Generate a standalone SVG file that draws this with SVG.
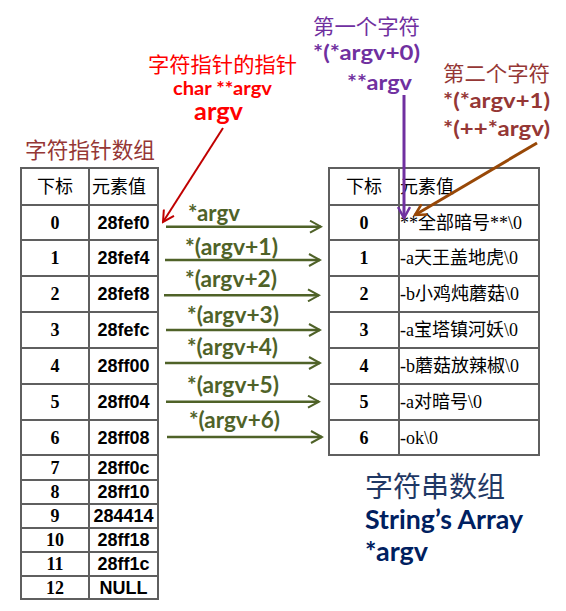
<svg xmlns="http://www.w3.org/2000/svg" width="566" height="611" viewBox="0 0 566 611">
<style>
.bg{fill:#ffffff}
.grid{stroke:#5f5f5f;stroke-width:2;fill:none}
.hdr{font-family:"Liberation Serif","Noto Sans CJK SC",serif;font-size:18px;fill:#000}
.idx{font-family:"Liberation Serif","Noto Sans CJK SC",serif;font-size:18px;font-weight:bold;fill:#000;text-anchor:middle}
.val{font-family:"Liberation Sans",Arial,sans-serif;font-size:18px;font-weight:bold;fill:#000;text-anchor:middle}
.str{font-family:"Liberation Serif","Noto Sans CJK SC",serif;font-size:18px;fill:#000}
.lbl{font-family:Lato,"Open Sans",sans-serif;font-size:23px;font-weight:bold;fill:#4f6228}
.cjk{font-family:"Noto Sans CJK SC",sans-serif}
.bold{font-family:Lato,"Open Sans",sans-serif;font-weight:bold}
.green{stroke:#4f6228;stroke-width:2.5;fill:none}
</style>
<defs>
<marker id="hg" markerUnits="userSpaceOnUse" viewBox="0 0 14 14" markerWidth="14" markerHeight="14" refX="12" refY="7" orient="auto"><path d="M1,1 L12,7 L1,13" fill="none" stroke="#4f6228" stroke-width="2"/></marker>
<marker id="hr" markerUnits="userSpaceOnUse" viewBox="0 0 14 14" markerWidth="14" markerHeight="14" refX="12" refY="7" orient="auto"><path d="M1,1 L12,7 L1,13" fill="none" stroke="#c00000" stroke-width="2"/></marker>
<marker id="hp" markerUnits="userSpaceOnUse" viewBox="0 0 14 14" markerWidth="14" markerHeight="14" refX="12" refY="7" orient="auto"><path d="M1,1 L12,7 L1,13" fill="none" stroke="#7030a0" stroke-width="2.5"/></marker>
<marker id="hb" markerUnits="userSpaceOnUse" viewBox="0 0 14 14" markerWidth="14" markerHeight="14" refX="12" refY="7" orient="auto"><path d="M1,1 L12,7 L1,13" fill="none" stroke="#984807" stroke-width="2.5"/></marker>
</defs>
<rect class="bg" x="0" y="0" width="566" height="611"/>

<g id="label-pointer-to-pointer">
<text class="cjk" x="148" y="72" font-size="21" fill="#ff0000" textLength="149" lengthAdjust="spacingAndGlyphs">字符指针的指针</text>
<text class="bold" x="173" y="95" font-size="18" fill="#ff0000" textLength="99" lengthAdjust="spacingAndGlyphs">char **argv</text>
<text class="bold" x="194" y="120" font-size="25" fill="#ff0000" textLength="49" lengthAdjust="spacingAndGlyphs">argv</text>
</g>

<g id="label-first-char">
<text class="cjk" x="313" y="34" font-size="21" fill="#7030a0" textLength="107" lengthAdjust="spacingAndGlyphs">第一个字符</text>
<text class="bold" x="313" y="60" font-size="21" fill="#7030a0" textLength="107" lengthAdjust="spacingAndGlyphs">*(*argv+0)</text>
<text class="bold" x="347" y="90" font-size="21" fill="#7030a0" textLength="65" lengthAdjust="spacingAndGlyphs">**argv</text>
</g>

<g id="label-second-char">
<text class="cjk" x="443" y="81" font-size="21" fill="#953735" textLength="107" lengthAdjust="spacingAndGlyphs">第二个字符</text>
<text class="bold" x="443" y="108" font-size="21" fill="#953735" textLength="107" lengthAdjust="spacingAndGlyphs">*(*argv+1)</text>
<text class="bold" x="443" y="136" font-size="21" fill="#953735" textLength="107" lengthAdjust="spacingAndGlyphs">*(++*argv)</text>
</g>

<g id="label-pointer-array">
<text class="cjk" x="25" y="158" font-size="22" fill="#953735" textLength="130" lengthAdjust="spacingAndGlyphs">字符指针数组</text>
</g>

<g id="table-pointer-array">
<rect class="grid" x="21" y="168" width="137" height="431"/>
<path class="grid" d="M89,168V599 M21,205H158 M21,240H158 M21,276H158 M21,312H158 M21,348H158 M21,384H158 M21,420H158 M21,455H158 M21,480H158 M21,504H158 M21,528H158 M21,552H158 M21,576H158"/>
<text class="hdr" x="55" y="193" text-anchor="middle">下标</text>
<text class="hdr" x="92" y="193">元素值</text>
<text class="idx" x="55" y="228.5">0</text><text class="val" x="123.5" y="228.5">28fef0</text>
<text class="idx" x="55" y="264">1</text><text class="val" x="123.5" y="264">28fef4</text>
<text class="idx" x="55" y="300">2</text><text class="val" x="123.5" y="300">28fef8</text>
<text class="idx" x="55" y="336">3</text><text class="val" x="123.5" y="336">28fefc</text>
<text class="idx" x="55" y="372">4</text><text class="val" x="123.5" y="372">28ff00</text>
<text class="idx" x="55" y="408">5</text><text class="val" x="123.5" y="408">28ff04</text>
<text class="idx" x="55" y="443.5">6</text><text class="val" x="123.5" y="443.5">28ff08</text>
<text class="idx" x="55" y="473.5">7</text><text class="val" x="123.5" y="473.5">28ff0c</text>
<text class="idx" x="55" y="498">8</text><text class="val" x="123.5" y="498">28ff10</text>
<text class="idx" x="55" y="522">9</text><text class="val" x="123.5" y="522">284414</text>
<text class="idx" x="55" y="546">10</text><text class="val" x="123.5" y="546">28ff18</text>
<text class="idx" x="55" y="570">11</text><text class="val" x="123.5" y="570">28ff1c</text>
<text class="idx" x="55" y="594">12</text><text class="val" x="123.5" y="594">NULL</text>
</g>

<g id="table-string-array">
<rect class="grid" x="329" y="168" width="210" height="287"/>
<path class="grid" d="M399,168V455 M329,205H539 M329,240H539 M329,276H539 M329,312H539 M329,348H539 M329,384H539 M329,420H539"/>
<text class="hdr" x="364" y="193" text-anchor="middle">下标</text>
<text class="hdr" x="400" y="193">元素值</text>
<text class="idx" x="364" y="228.5">0</text><text class="str" x="400" y="228.5">**全部暗号**\0</text>
<text class="idx" x="364" y="264">1</text><text class="str" x="400" y="264">-a天王盖地虎\0</text>
<text class="idx" x="364" y="300">2</text><text class="str" x="400" y="300">-b小鸡炖蘑菇\0</text>
<text class="idx" x="364" y="336">3</text><text class="str" x="400" y="336">-a宝塔镇河妖\0</text>
<text class="idx" x="364" y="372">4</text><text class="str" x="400" y="372">-b蘑菇放辣椒\0</text>
<text class="idx" x="364" y="408">5</text><text class="str" x="400" y="408">-a对暗号\0</text>
<text class="idx" x="364" y="443.5">6</text><text class="str" x="400" y="443.5">-ok\0</text>
</g>

<g id="label-string-array">
<text class="cjk" x="365" y="497" font-size="28" fill="#1f3864" textLength="140" lengthAdjust="spacingAndGlyphs">字符串数组</text>
<text class="bold" x="365" y="529" font-size="26" fill="#002060" textLength="158" lengthAdjust="spacingAndGlyphs">String’s  Array</text>
<text class="bold" x="365" y="561" font-size="26" fill="#002060" textLength="63" lengthAdjust="spacingAndGlyphs">*argv</text>
</g>

<g id="connectors">
<line x1="223" y1="128" x2="163" y2="222" stroke="#c00000" stroke-width="2" marker-end="url(#hr)"/>
<line x1="404" y1="95" x2="404" y2="218" stroke="#7030a0" stroke-width="3" marker-end="url(#hp)"/>
<line x1="537" y1="143" x2="415" y2="215" stroke="#984807" stroke-width="3" marker-end="url(#hb)"/>
<line class="green" x1="166" y1="226.7" x2="321" y2="226.7" marker-end="url(#hg)"/>
<line class="green" x1="165" y1="260" x2="320" y2="260" marker-end="url(#hg)"/>
<line class="green" x1="164" y1="295.3" x2="319" y2="295.3" marker-end="url(#hg)"/>
<line class="green" x1="166" y1="330" x2="320" y2="330" marker-end="url(#hg)"/>
<line class="green" x1="165" y1="363" x2="320" y2="363" marker-end="url(#hg)"/>
<line class="green" x1="166" y1="401.7" x2="319" y2="401.7" marker-end="url(#hg)"/>
<line class="green" x1="167" y1="437" x2="322" y2="437" marker-end="url(#hg)"/>
<text class="lbl" x="188" y="221" textLength="52" lengthAdjust="spacingAndGlyphs">*argv</text>
<text class="lbl" x="185" y="255" textLength="93" lengthAdjust="spacingAndGlyphs">*(argv+1)</text>
<text class="lbl" x="185" y="287" textLength="92" lengthAdjust="spacingAndGlyphs">*(argv+2)</text>
<text class="lbl" x="187" y="323" textLength="92" lengthAdjust="spacingAndGlyphs">*(argv+3)</text>
<text class="lbl" x="187" y="355" textLength="91" lengthAdjust="spacingAndGlyphs">*(argv+4)</text>
<text class="lbl" x="187" y="393" textLength="92" lengthAdjust="spacingAndGlyphs">*(argv+5)</text>
<text class="lbl" x="189" y="428" textLength="91" lengthAdjust="spacingAndGlyphs">*(argv+6)</text>
</g>
</svg>
